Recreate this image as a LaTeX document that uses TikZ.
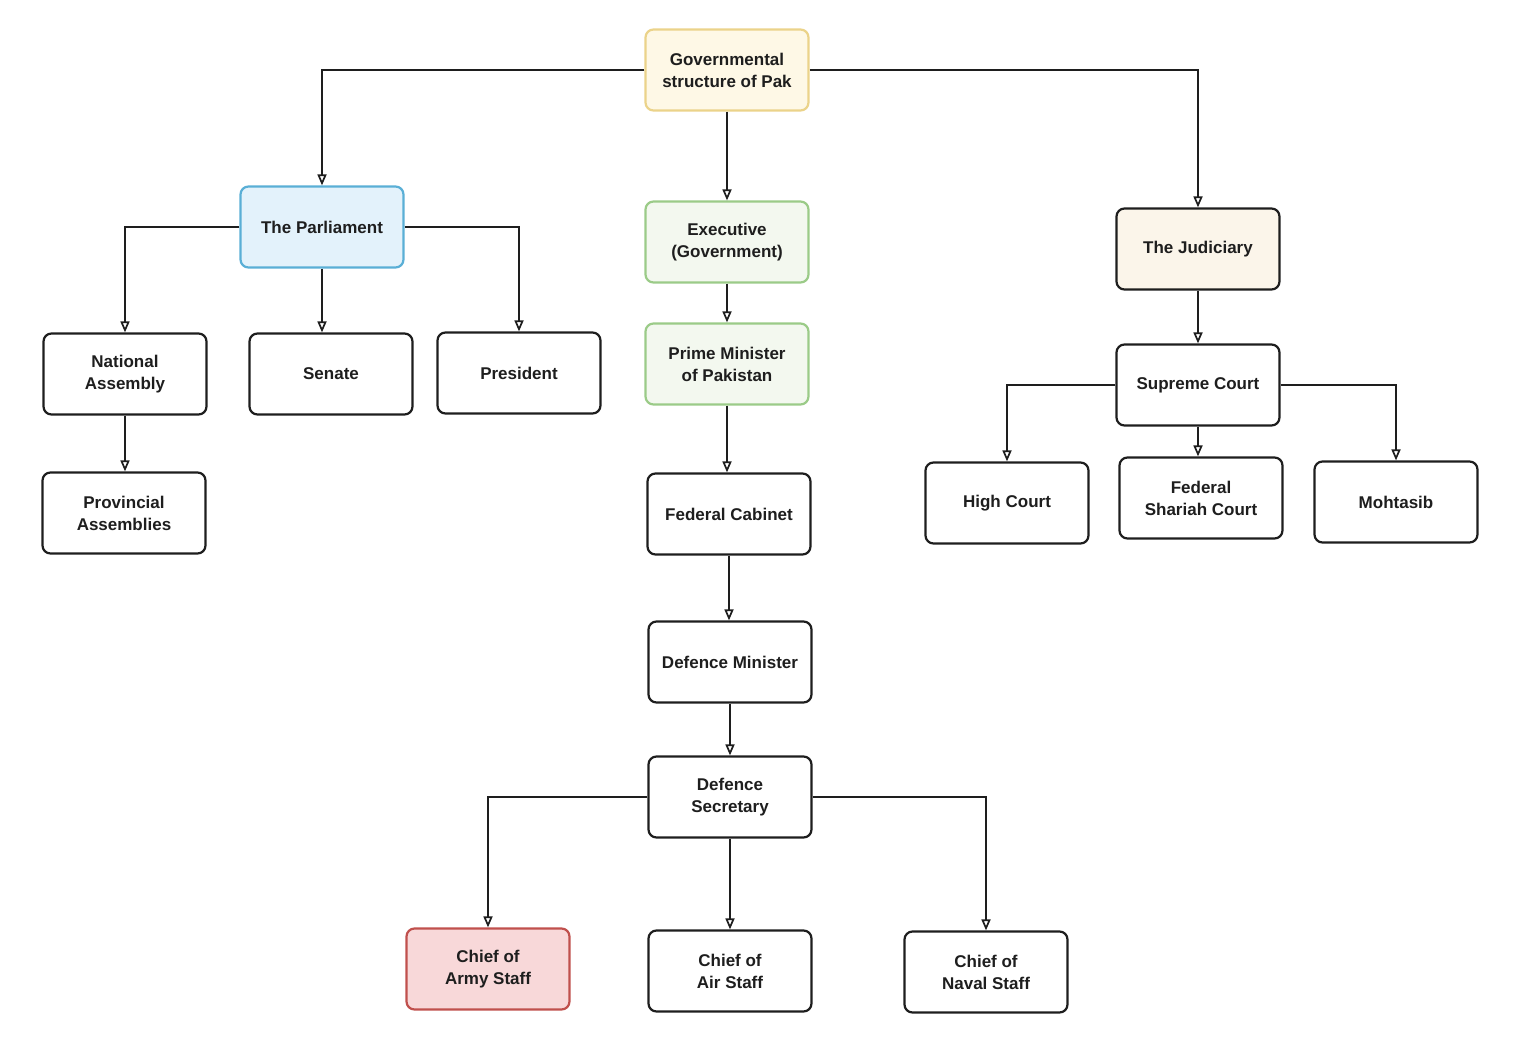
\documentclass[tikz,border=0pt]{standalone}
\usepackage{fontspec}
\newfontfamily\lbl{Liberation Sans}
\usetikzlibrary{arrows.meta}
\definecolor{govfill}{HTML}{FEF8E6}
\definecolor{govdraw}{HTML}{EBD38A}
\definecolor{parfill}{HTML}{E3F2FB}
\definecolor{pardraw}{HTML}{5AAFD6}
\definecolor{exefill}{HTML}{F3F8EF}
\definecolor{exedraw}{HTML}{9BCB88}
\definecolor{judfill}{HTML}{FBF5EA}
\definecolor{armyfill}{HTML}{F8D8D9}
\definecolor{armydraw}{HTML}{C0504D}
\definecolor{ink}{HTML}{1E1E1E}
\tikzset{
  box/.style={draw=ink, line width=2.2pt, rounded corners=8pt, minimum width=163pt, minimum height=81pt,
    align=center, font=\lbl\bfseries\fontsize{17}{22}\selectfont, text=ink, fill=white},
  govbox/.style={box, draw=govdraw, fill=govfill},
  parbox/.style={box, draw=pardraw, fill=parfill},
  exebox/.style={box, draw=exedraw, fill=exefill},
  judbox/.style={box, fill=judfill},
  armybox/.style={box, draw=armydraw, fill=armyfill},
  conn/.style={draw=ink, line width=1.9pt, -{Triangle[open, length=11pt, width=9pt, line width=1.7pt]}}
}
\begin{document}
\begin{tikzpicture}[x=1pt,y=-1pt]
\useasboundingbox (0,0) rectangle (1536,1064);
\node[govbox] (gov) at (727,70) {Governmental\\structure of Pak};
\node[parbox] (par) at (322,227) {The Parliament};
\node[exebox] (exe) at (727,242) {Executive\\(Government)};
\node[judbox] (jud) at (1198,249) {The Judiciary};
\node[box] (na) at (125,374) {National\\Assembly};
\node[box] (sen) at (331,374) {Senate};
\node[box] (pres) at (519,373) {President};
\node[box] (prov) at (124,513) {Provincial\\Assemblies};
\node[exebox] (pm) at (727,364) {Prime Minister\\of Pakistan};
\node[box] (fc) at (729,514) {Federal Cabinet};
\node[box] (dm) at (730,662) {Defence Minister};
\node[box] (ds) at (730,797) {Defence\\Secretary};
\node[box] (sc) at (1198,385) {Supreme Court};
\node[box] (hc) at (1007,503) {High Court};
\node[box] (fsc) at (1201,498) {Federal\\Shariah Court};
\node[box] (moh) at (1396,502) {Mohtasib};
\node[armybox] (army) at (488,969) {Chief of\\Army Staff};
\node[box] (air) at (730,971) {Chief of\\Air Staff};
\node[box] (navy) at (986,972) {Chief of\\Naval Staff};

\draw[conn] (gov.west) -| (par.north);
\draw[conn] (gov.east) -| (jud.north);
\draw[conn] (gov.south) -- (exe.north);
\draw[conn] (par.west) -| (na.north);
\draw[conn] (par.south) -- (par.south |- sen.north);
\draw[conn] (par.east) -| (pres.north);
\draw[conn] (na.south) -- (na.south |- prov.north);
\draw[conn] (exe.south) -- (pm.north);
\draw[conn] (pm.south) -- (pm.south |- fc.north);
\draw[conn] (fc.south) -- (fc.south |- dm.north);
\draw[conn] (dm.south) -- (ds.north);
\draw[conn] (ds.west) -| (army.north);
\draw[conn] (ds.south) -- (air.north);
\draw[conn] (ds.east) -| (navy.north);
\draw[conn] (jud.south) -- (sc.north);
\draw[conn] (sc.west) -| (hc.north);
\draw[conn] (sc.south) -- (sc.south |- fsc.north);
\draw[conn] (sc.east) -| (moh.north);
\end{tikzpicture}
\end{document}
